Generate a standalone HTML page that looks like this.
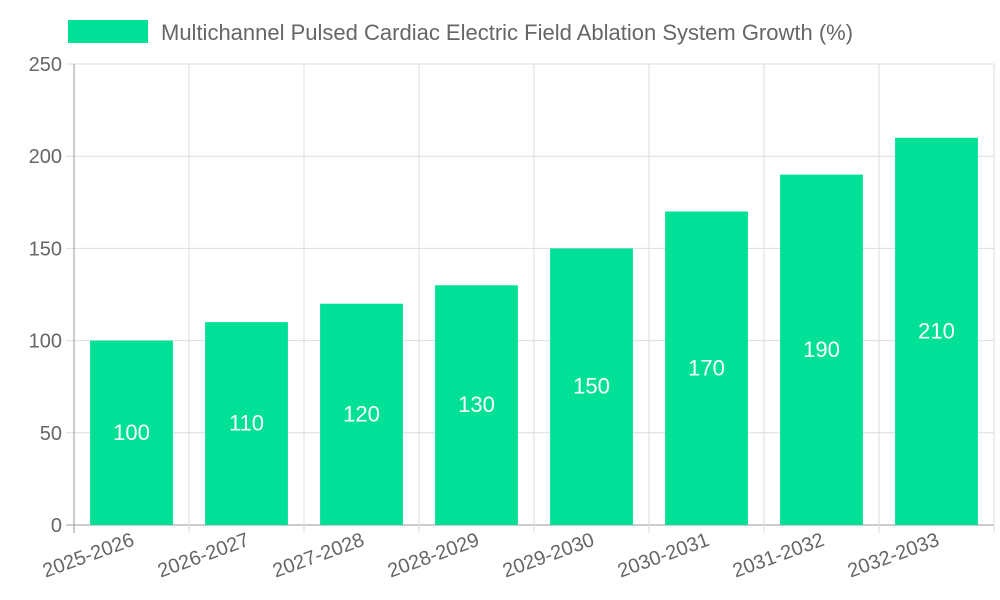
<!DOCTYPE html>
<html><head><meta charset="utf-8"><style>
body{margin:0;background:#fff;}
svg{font-family:"Liberation Sans",sans-serif;display:block}
</style></head><body>
<svg id="chart" width="1000" height="600">
<g id="legend">
<rect x="68" y="20" width="80" height="23" fill="#00e096"></rect>
<text x="161" y="40" font-size="22" fill="#666">Multichannel Pulsed Cardiac Electric Field Ablation System Growth (%)</text>
</g>
<g id="grid"></g><g id="bars"></g><g id="axes"></g>
</svg>
<script>
const categories=["2025-2026","2026-2027","2027-2028","2028-2029","2029-2030","2030-2031","2031-2032","2032-2033"];
const values=[100,110,120,130,150,170,190,210];
const yTicks=[0,50,100,150,200,250];
const NS="http://www.w3.org/2000/svg";
const L=74,R=994,T=64,B=525,yMax=250;
const bw=(R-L)/categories.length;
const y=v=>B-(v/yMax)*(B-T);
const x=i=>L+i*bw;
function mk(tag,attrs,parent){const e=document.createElementNS(NS,tag);for(const k in attrs)e.setAttribute(k,attrs[k]);document.getElementById(parent).appendChild(e);return e;}
yTicks.forEach(t=>{
 const g=mk("line",{x1:L-8,x2:R,y1:y(t),y2:y(t),stroke:t===0?"#999":"#ddd","stroke-width":1},"grid");
 
 
 const tx=mk("text",{x:L-12,y:y(t)+7,"text-anchor":"end","font-size":20,fill:"#666"},"axes");
 tx.textContent=t;
 
 
});
for(let i=0;i<=categories.length;i++){
 const g=mk("line",{x1:x(i),x2:x(i),y1:T,y2:B+8,stroke:i===0?"#999":"#ddd","stroke-width":1},"grid");
 
 
}
categories.forEach((c,i)=>{
 const cx=x(i)+bw/2,w=bw*0.72;
 const r=mk("rect",{x:cx-w/2,y:y(values[i]),width:w,height:B-y(values[i]),fill:"#00e096"},"bars");
 
 
 const v=mk("text",{x:cx,y:(y(values[i])+B)/2+7,"text-anchor":"middle","font-size":22,fill:"#fff"},"bars");
 v.textContent=values[i];
 
 
 const lb=mk("text",{x:cx+4,y:B+20,"text-anchor":"end","font-size":20,fill:"#666",transform:`rotate(-20 ${cx+4} ${B+20})`},"axes");
 lb.textContent=c;
 
 
});
</script>
</body></html>
